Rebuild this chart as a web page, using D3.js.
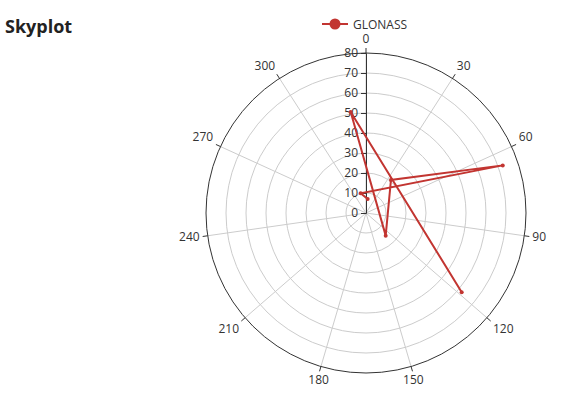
<!DOCTYPE html>
<html>
<head>
<meta charset="utf-8">
<script src="https://d3js.org/d3.v7.min.js"></script>
<style>
  body { margin: 0; background: #fff; }
  text { font-family: "Open Sans", "Liberation Sans", sans-serif; }
</style>
</head>
<body>
<div id="chart"></div>
<script>
// series: GLONASS satellites, [elevation, azimuth]
var seriesName = "GLONASS";
var elevation = [7, 10.2, 72.4, 20.7, 15, 51.1, 62.1];
var azimuth = [6.3, 316.2, 64.9, 34, 127.4, 322.1, 118.8];
var radiusTicks = [0, 10, 20, 30, 40, 50, 60, 70, 80];
var angleTicks = [0, 30, 60, 90, 120, 150, 180, 210, 240, 270, 300];

var width = 563, height = 394;
var cx = 366, cy = 213, R = 160;
var red = "#c23531";

var svg = d3.select("#chart")
    .append("svg")
    .attr("width", width)
    .attr("height", height);

// title
svg.append("text")
    .attr("x", 5)
    .attr("y", 33)
    .style("font-size", "18px")
    .style("font-weight", "bold")
    .attr("fill", "#222")
    .text("Skyplot");

// scales
var r = d3.scaleLinear().domain([0, 80]).range([0, R]);
var a = d3.scaleLinear().domain([0, 330]).range([0, 2 * Math.PI]);

function px(rad, ang) { return cx + rad * Math.sin(ang); }
function py(rad, ang) { return cy - rad * Math.cos(ang); }

var g = svg.append("g");

// split circles
g.selectAll(".ring")
    .data(radiusTicks.filter(function (d) { return d > 0 && d < 80; }))
    .enter().append("circle")
    .attr("cx", cx).attr("cy", cy)
    .attr("r", function (d) { return r(d); })
    .attr("fill", "none")
    .attr("stroke", "#ccc");

// radial split lines
g.selectAll(".spoke")
    .data(angleTicks)
    .enter().append("line")
    .attr("x1", cx).attr("y1", cy)
    .attr("x2", function (d) { return px(R, a(d)); })
    .attr("y2", function (d) { return py(R, a(d)); })
    .attr("stroke", "#ccc");

// angle axis line
g.append("circle")
    .attr("cx", cx).attr("cy", cy).attr("r", R)
    .attr("fill", "none")
    .attr("stroke", "#333");

// angle ticks
g.selectAll(".atick")
    .data(angleTicks)
    .enter().append("line")
    .attr("x1", function (d) { return px(R, a(d)); })
    .attr("y1", function (d) { return py(R, a(d)); })
    .attr("x2", function (d) { return px(R + 5, a(d)); })
    .attr("y2", function (d) { return py(R + 5, a(d)); })
    .attr("stroke", "#333");

// angle labels
g.selectAll(".alabel")
    .data(angleTicks)
    .enter().append("text")
    .attr("x", function (d) { return px(R + 8, a(d)); })
    .attr("y", function (d) {
        var y = py(R + 8, a(d)), dy = (y - cy) / (R + 8);
        if (Math.abs(dy) < 0.3) return y + 4;
        return dy > 0 ? y + 10 : y - 2;
    })
    .attr("text-anchor", function (d) {
        var dx = (px(R + 8, a(d)) - cx) / (R + 8);
        if (Math.abs(dx) < 0.3) return "middle";
        return dx > 0 ? "start" : "end";
    })
    .style("font-size", "12px")
    .attr("fill", "#333")
    .text(function (d) { return d; });

// radius axis
var yAxis = d3.scaleLinear().domain([0, 80]).range([cy, cy - R]);
var ra = svg.append("g")
    .attr("transform", "translate(" + cx + ",0)")
    .call(d3.axisLeft(yAxis).tickValues(radiusTicks).tickSize(5).tickPadding(3));
ra.select(".domain").attr("stroke", "#333");
ra.selectAll(".tick line").attr("stroke", "#333");
ra.selectAll(".tick text")
    .style("font-size", "12px")
    .style("font-family", "'Open Sans', 'Liberation Sans', sans-serif")
    .attr("fill", "#333");

// series
var pts = elevation.map(function (e, i) {
    return [px(r(e), a(azimuth[i])), py(r(e), a(azimuth[i]))];
});
svg.append("path")
    .datum(pts)
    .attr("fill", "none")
    .attr("stroke", red)
    .attr("stroke-width", 2)
    .attr("d", d3.line());
svg.selectAll(".pt")
    .data(pts)
    .enter().append("circle")
    .attr("cx", function (d) { return d[0]; })
    .attr("cy", function (d) { return d[1]; })
    .attr("r", 2)
    .attr("fill", red);

// legend
var lg = svg.append("g");
lg.append("line")
    .attr("x1", 322).attr("x2", 348)
    .attr("y1", 24).attr("y2", 24)
    .attr("stroke", red).attr("stroke-width", 2);
lg.append("circle")
    .attr("cx", 335).attr("cy", 24).attr("r", 5.5)
    .attr("fill", red);
lg.append("text")
    .attr("x", 353).attr("y", 28.5)
    .style("font-size", "12px")
    .attr("fill", "#333")
    .text(seriesName);
</script>
</body>
</html>
